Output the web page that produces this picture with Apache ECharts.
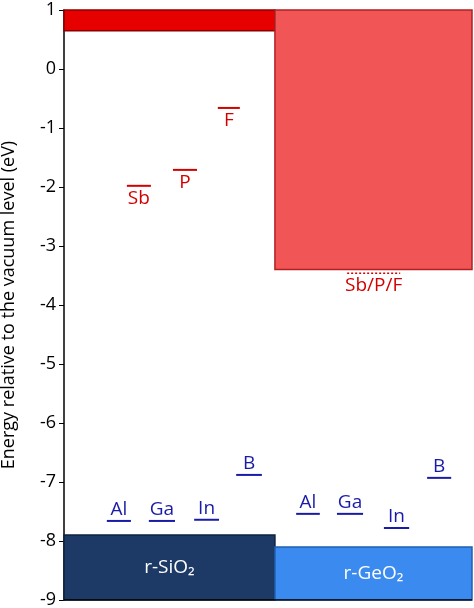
<!DOCTYPE html><html><head><meta charset="utf-8">
<script src="https://cdn.jsdelivr.net/npm/echarts@6/dist/echarts.min.js"></script>
<style>html,body{margin:0;padding:0}#c{width:474px;height:608px}</style></head><body><div id="c"></div>
<script>
// boxes: [x0,x1,yTop,yBottom,color,border,label]
const boxes=[[0,51.7,1,0.65,'#e60000','#8a0000',''],[51.7,100,1,-3.4,'#f25555','#b02020',''],
[0,51.7,-7.9,-9,'#1d3a66','#0f223f','r-SiO₂'],[51.7,100,-8.1,-9,'#3a8af0','#1f5fb0','r-GeO₂']];
const redNames=['Sb','P','F','Sb/P/F'];
const redLevels=[[15.4,21.3,-1.98],[26.7,32.6,-1.71],[37.7,43.1,-0.66],[69.4,82.4,-3.46]];
const blueNames=['Al','Ga','In','B','Al','Ga','In','B'];
const blueLevels=[[10.5,16.4,-7.66],[20.8,27.2,-7.66],[31.9,38.0,-7.64],[42.2,48.5,-6.88],[56.9,62.7,-7.54],[66.9,73.3,-7.54],[78.4,84.6,-7.78],[89.0,94.9,-6.93]];
const yTicks=['-9','-8','-7','-6','-5','-4','-3','-2','-1','0','1'];
const font='"Open Sans",sans-serif';
const ch=echarts.init(document.getElementById('c'));
function lvl(names,levels,color,below,dotted){
 return {type:'custom',data:levels.map((l,i)=>[l[0],l[1],l[2],names[i]]),renderItem:(p,api)=>{
  const a=api.coord([api.value(0),api.value(2)]),b=api.coord([api.value(1),api.value(2)]);
  const dot=dotted&&names[p.dataIndex]==='Sb/P/F';
  return {type:'group',children:[
   {type:'line',shape:{x1:a[0],y1:a[1],x2:b[0],y2:a[1]},style:{stroke:color,lineWidth:dot?1.5:2,lineDash:dot?[2,2]:null}},
   {type:'text',x:(a[0]+b[0])/2,y:below?a[1]+3:a[1]-2,style:{text:names[p.dataIndex],fill:color,font:'19px '+font,align:'center',verticalAlign:below?'top':'bottom'}}]};
 }};
}
ch.setOption({animation:false,grid:{left:64,right:2,top:10,bottom:8,containLabel:false,outerBoundsMode:'none'},
xAxis:{type:'value',min:0,max:100,show:false},
yAxis:{type:'value',min:-9,max:1,interval:1,name:'Energy relative to the vacuum level (eV)',nameLocation:'middle',nameGap:46,
 nameTextStyle:{fontSize:18,fontFamily:font,color:'#000'},axisLine:{show:true,lineStyle:{color:'#000',width:1.5}},
 axisTick:{show:true,inside:false,length:5,lineStyle:{color:'#000'}},splitLine:{show:false},
 axisLabel:{fontSize:18,fontFamily:font,color:'#000',margin:8,formatter:v=>yTicks[Math.round(v)+9]}},
series:[{type:'custom',data:boxes,renderItem:(p,api)=>{
 const d=boxes[p.dataIndex];const a=api.coord([d[0],d[2]]),b=api.coord([d[1],d[3]]);
 return {type:'group',children:[{type:'rect',shape:{x:a[0],y:a[1],width:b[0]-a[0],height:b[1]-a[1]},style:{fill:d[4],stroke:d[5],lineWidth:1.5}},
  {type:'text',x:(a[0]+b[0])/2,y:(a[1]+b[1])/2,style:{text:d[6],fill:'#fff',font:'19px '+font,align:'center',verticalAlign:'middle'}}]};}},
 lvl(redNames,redLevels,'#d40000',true,true),lvl(blueNames,blueLevels,'#1a1aa8',false,false),
 {type:'line',data:[[0,-9],[100,-9]],symbol:'none',lineStyle:{color:'#000',width:1.5}}]});
</script></body></html>
